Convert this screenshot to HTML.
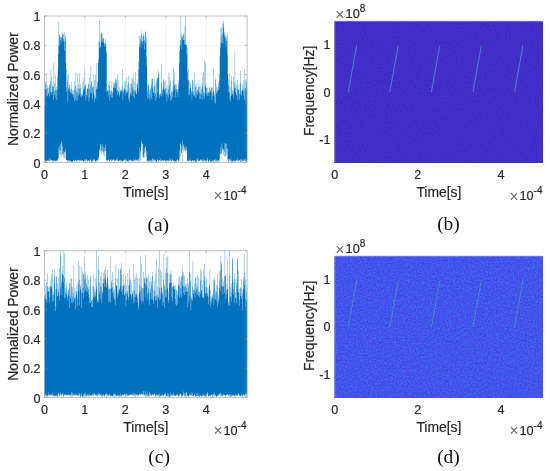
<!DOCTYPE html>
<html lang="en">
<head>
<meta charset="utf-8">
<title>Normalized power and spectrograms</title>
<style>
html,body{margin:0;padding:0;background:#fff;}
body{width:550px;height:471px;overflow:hidden;}
svg{display:block;}
text{font-family:"Liberation Sans", Arial, Helvetica, sans-serif;fill:#262626;stroke:#262626;stroke-width:0.18px;}
.t{font-size:12.6px;}
.l{font-size:13.9px;}
.s{font-size:10px;}
.e{font-size:12.7px;}
.x{font-size:15.6px;fill:#6e6e6e;stroke:none;}
.c{font-family:"Liberation Serif", "Times New Roman", Times, serif;font-size:19.5px;fill:#111;stroke:none;}
</style>
</head>
<body>
<svg width="550" height="471" viewBox="0 0 550 471">
<defs>
<filter id="nb" x="0" y="0" width="100%" height="100%" color-interpolation-filters="sRGB">
<feTurbulence type="fractalNoise" baseFrequency="0.55" numOctaves="2" seed="3" result="n"/>
<feColorMatrix in="n" type="matrix" values="0.03 0 0 0 0.238  0.08 0 0 0 0.140  0.10 0 0 0 0.727  0 0 0 0 1"/>
</filter>
<filter id="nd" x="0" y="0" width="100%" height="100%" color-interpolation-filters="sRGB">
<feTurbulence type="fractalNoise" baseFrequency="0.6" numOctaves="2" seed="11" result="n"/>
<feColorMatrix in="n" type="matrix" values="-0.12 0 0 0 0.318  0.36 0 0 0 0.152  0.12 0 0 0 0.858  0 0 0 0 1"/>
</filter>
</defs>
<rect width="550" height="471" fill="#fff"/>
<rect x="44.4" y="16" width="202.7" height="146.4" fill="#fff"/>
<path d="M84.8 16V162.4M125.3 16V162.4M165.8 16V162.4M206.2 16V162.4M44.4 133.1H247.1M44.4 103.8H247.1M44.4 74.6H247.1M44.4 45.3H247.1" stroke="#e6e6e6" stroke-width="0.6" fill="none"/>
<path d="M44.40 160.2V98.1h0.333V160.2zM44.73 160.6V103.6h0.333V160.6zM45.07 160.2V81.6h0.333V160.2zM45.40 161.7V88.9h0.333V161.7zM45.73 161.7V84h0.333V161.7zM46.07 161V73.7h0.333V161zM46.40 161.2V89.2h0.333V161.2zM46.73 160.3V95.4h0.333V160.3zM47.07 160.5V96.3h0.333V160.5zM47.40 160V85.3h0.333V160zM47.73 161V88.1h0.333V161zM48.07 160.9V87.3h0.333V160.9zM48.40 160.7V93.8h0.333V160.7zM48.73 159.5V93h0.333V159.5zM49.07 161V96.4h0.333V161zM49.40 161.2V85.6h0.333V161.2zM49.73 157.7V84.1h0.333V157.7zM50.07 160.5V91.8h0.333V160.5zM50.40 159V81h0.333V159zM50.73 160.5V69.3h0.333V160.5zM51.07 160.2V92.2h0.333V160.2zM51.40 160.2V94.9h0.333V160.2zM51.73 159.9V77.1h0.333V159.9zM52.07 161.8V91.7h0.333V161.8zM52.40 160.7V84.9h0.333V160.7zM52.73 160.6V86.7h0.333V160.6zM53.07 160.2V99.6h0.333V160.2zM53.40 161.5V86.6h0.333V161.5zM53.73 159.9V63h0.333V159.9zM54.07 161.1V91h0.333V161.1zM54.40 161.6V83.3h0.333V161.6zM54.74 160.8V95.1h0.333V160.8zM55.07 160.7V75.6h0.333V160.7zM55.40 161.5V89.8h0.333V161.5zM55.74 160.9V98h0.333V160.9zM56.07 159.9V87h0.333V159.9zM56.40 160.8V90.6h0.333V160.8zM56.74 161.2V99.9h0.333V161.2zM57.07 160.8V77.6h0.333V160.8zM57.40 160.9V89.5h0.333V160.9zM57.74 159.2V69.5h0.333V159.2zM58.07 157.7V53.9h0.333V157.7zM58.40 148.3V45.9h0.333V148.3zM58.74 158.5V21.6h0.333V158.5zM59.07 145.8V33.9h0.333V145.8zM59.40 154V35.3h0.333V154zM59.74 149.9V45.1h0.333V149.9zM60.07 154.7V40.1h0.333V154.7zM60.40 150.9V36.8h0.333V150.9zM60.74 144V37.3h0.333V144zM61.07 156.5V37.9h0.333V156.5zM61.40 141.2V36.9h0.333V141.2zM61.74 142.1V42.5h0.333V142.1zM62.07 154.3V33.9h0.333V154.3zM62.40 145.9V35.4h0.333V145.9zM62.74 155V31.4h0.333V155zM63.07 157.3V41.1h0.333V157.3zM63.40 153.4V34.1h0.333V153.4zM63.74 151.1V38.9h0.333V151.1zM64.07 151.6V33.2h0.333V151.6zM64.40 158.2V50.9h0.333V158.2zM64.74 152.3V41.5h0.333V152.3zM65.07 152.7V35.7h0.333V152.7zM65.40 148.8V39h0.333V148.8zM65.74 160V62.7h0.333V160zM66.07 159.7V68.9h0.333V159.7zM66.40 160V87.4h0.333V160zM66.74 160.2V91.7h0.333V160.2zM67.07 161.5V82h0.333V161.5zM67.40 160.8V75.4h0.333V160.8zM67.74 160.4V101.8h0.333V160.4zM68.07 160.4V89.3h0.333V160.4zM68.40 162V74.3h0.333V162zM68.74 159.9V87.6h0.333V159.9zM69.07 160.6V90.7h0.333V160.6zM69.40 161.4V85h0.333V161.4zM69.74 161.2V84.7h0.333V161.2zM70.07 161V88.5h0.333V161zM70.40 160.9V93.2h0.333V160.9zM70.74 160.9V91.9h0.333V160.9zM71.07 161.4V93.3h0.333V161.4zM71.40 161.9V82.1h0.333V161.9zM71.74 161.9V89.1h0.333V161.9zM72.07 161.6V93.3h0.333V161.6zM72.40 161.9V94.7h0.333V161.9zM72.74 161V90.6h0.333V161zM73.07 160.7V97.3h0.333V160.7zM73.40 160.4V90.3h0.333V160.4zM73.74 160V94.5h0.333V160zM74.07 160.7V81.2h0.333V160.7zM74.40 160.9V101.1h0.333V160.9zM74.74 161.7V89.4h0.333V161.7zM75.07 159.7V99.6h0.333V159.7zM75.41 160V85.6h0.333V160zM75.74 161.3V72.7h0.333V161.3zM76.07 160.7V100.4h0.333V160.7zM76.41 161.5V91.3h0.333V161.5zM76.74 160.7V88.3h0.333V160.7zM77.07 161.3V73.9h0.333V161.3zM77.41 160.1V93.1h0.333V160.1zM77.74 160.3V100.3h0.333V160.3zM78.07 159.9V84.6h0.333V159.9zM78.41 160.5V95.4h0.333V160.5zM78.74 160.3V88.6h0.333V160.3zM79.07 160.7V73.1h0.333V160.7zM79.41 162.3V88.8h0.333V162.3zM79.74 159.8V94.5h0.333V159.8zM80.07 160.9V88.2h0.333V160.9zM80.41 159.7V84h0.333V159.7zM80.74 161V96.2h0.333V161zM81.07 159.8V93.6h0.333V159.8zM81.41 160.5V97.8h0.333V160.5zM81.74 160.9V95.3h0.333V160.9zM82.07 159.9V95.9h0.333V159.9zM82.41 160.9V94.3h0.333V160.9zM82.74 161.1V81.9h0.333V161.1zM83.07 161.1V91.5h0.333V161.1zM83.41 161.8V88.4h0.333V161.8zM83.74 161.4V77.6h0.333V161.4zM84.07 160.6V89.4h0.333V160.6zM84.41 159.3V86.3h0.333V159.3zM84.74 160.8V67.4h0.333V160.8zM85.07 161.5V84.8h0.333V161.5zM85.41 159.8V85h0.333V159.8zM85.74 160.5V100.5h0.333V160.5zM86.07 159.3V91.6h0.333V159.3zM86.41 159.1V95.1h0.333V159.1zM86.74 160.8V96.8h0.333V160.8zM87.07 161.7V87.9h0.333V161.7zM87.41 161V89.1h0.333V161zM87.74 160.5V88.9h0.333V160.5zM88.07 160.2V83.6h0.333V160.2zM88.41 160.5V84.8h0.333V160.5zM88.74 161.1V101.4h0.333V161.1zM89.07 160.6V97.8h0.333V160.6zM89.41 161V77.2h0.333V161zM89.74 161.4V88.9h0.333V161.4zM90.07 160.3V85.7h0.333V160.3zM90.41 159.2V92.5h0.333V159.2zM90.74 159.3V66.4h0.333V159.3zM91.07 162V93.7h0.333V162zM91.41 161.7V81.8h0.333V161.7zM91.74 160.9V80.7h0.333V160.9zM92.07 161.8V86.9h0.333V161.8zM92.41 160.3V99.6h0.333V160.3zM92.74 161.3V87.3h0.333V161.3zM93.07 159.6V86.4h0.333V159.6zM93.41 160.7V92.7h0.333V160.7zM93.74 159.6V74.4h0.333V159.6zM94.07 159.8V101.8h0.333V159.8zM94.41 159.1V95.2h0.333V159.1zM94.74 160.8V79.7h0.333V160.8zM95.07 161.9V97.4h0.333V161.9zM95.41 160.9V74.7h0.333V160.9zM95.74 161.3V98.9h0.333V161.3zM96.08 159.9V87.3h0.333V159.9zM96.41 160.7V89.5h0.333V160.7zM96.74 162.1V63h0.333V162.1zM97.08 159.3V88.9h0.333V159.3zM97.41 160V81.1h0.333V160zM97.74 160.7V83h0.333V160.7zM98.08 160.4V59.3h0.333V160.4zM98.41 157.5V63h0.333V157.5zM98.74 156V41.4h0.333V156zM99.08 150V48.1h0.333V150zM99.41 149.2V21h0.333V149.2zM99.74 152.9V42.1h0.333V152.9zM100.08 151.6V46.6h0.333V151.6zM100.41 144.3V47.3h0.333V144.3zM100.74 143.8V33.6h0.333V143.8zM101.08 151.1V31.6h0.333V151.1zM101.41 155V33.6h0.333V155zM101.74 146.7V42.8h0.333V146.7zM102.08 144.5V41.4h0.333V144.5zM102.41 151V38.1h0.333V151zM102.74 152.3V33.3h0.333V152.3zM103.08 152.5V38.9h0.333V152.5zM103.41 155.2V37.8h0.333V155.2zM103.74 146.8V42.9h0.333V146.8zM104.08 156.4V46.9h0.333V156.4zM104.41 151.4V43.7h0.333V151.4zM104.74 147.4V42.6h0.333V147.4zM105.08 144.7V38.5h0.333V144.7zM105.41 150.9V43.7h0.333V150.9zM105.74 150.4V45.6h0.333V150.4zM106.08 159.8V53h0.333V159.8zM106.41 160.5V51h0.333V160.5zM106.74 160.3V92.2h0.333V160.3zM107.08 161.4V91.1h0.333V161.4zM107.41 160.7V90.9h0.333V160.7zM107.74 160.1V89.4h0.333V160.1zM108.08 159.8V96.2h0.333V159.8zM108.41 159.8V84.4h0.333V159.8zM108.74 160.3V90.6h0.333V160.3zM109.08 160.9V81.1h0.333V160.9zM109.41 161.1V85.9h0.333V161.1zM109.74 161.6V100.8h0.333V161.6zM110.08 159.1V92h0.333V159.1zM110.41 160V95.1h0.333V160zM110.74 160V90h0.333V160zM111.08 161.3V97.2h0.333V161.3zM111.41 161.6V91.1h0.333V161.6zM111.74 159.3V81.3h0.333V159.3zM112.08 159.7V97.8h0.333V159.7zM112.41 160.7V91.8h0.333V160.7zM112.74 160.5V93.2h0.333V160.5zM113.08 159.3V82.6h0.333V159.3zM113.41 159.4V87.8h0.333V159.4zM113.74 160V86.3h0.333V160zM114.08 161.7V87.9h0.333V161.7zM114.41 160.8V83.8h0.333V160.8zM114.74 159.5V82.4h0.333V159.5zM115.08 160.2V79h0.333V160.2zM115.41 161.1V88.1h0.333V161.1zM115.75 160.5V77.5h0.333V160.5zM116.08 160.8V82.8h0.333V160.8zM116.41 159.2V80.1h0.333V159.2zM116.75 159.7V91h0.333V159.7zM117.08 158.3V75.1h0.333V158.3zM117.41 160.5V95.1h0.333V160.5zM117.75 161.1V89.7h0.333V161.1zM118.08 161V91.4h0.333V161zM118.41 161V92.2h0.333V161zM118.75 161V79.7h0.333V161zM119.08 159.8V96.7h0.333V159.8zM119.41 161.2V94.6h0.333V161.2zM119.75 160V87.7h0.333V160zM120.08 160.8V91.1h0.333V160.8zM120.41 161.6V89.4h0.333V161.6zM120.75 159.7V92.2h0.333V159.7zM121.08 162.2V91.3h0.333V162.2zM121.41 160.5V89.4h0.333V160.5zM121.75 160.7V90.6h0.333V160.7zM122.08 161.8V86.6h0.333V161.8zM122.41 161.6V68.8h0.333V161.6zM122.75 161.1V100.5h0.333V161.1zM123.08 161V93.1h0.333V161zM123.41 160.8V90.3h0.333V160.8zM123.75 160.3V90.6h0.333V160.3zM124.08 160.3V81.4h0.333V160.3zM124.41 159.9V88.5h0.333V159.9zM124.75 157.9V88.7h0.333V157.9zM125.08 160.4V90.2h0.333V160.4zM125.41 159.8V81.5h0.333V159.8zM125.75 159.5V95.6h0.333V159.5zM126.08 160.5V90.3h0.333V160.5zM126.41 161.6V93h0.333V161.6zM126.75 160.6V77.4h0.333V160.6zM127.08 162.3V91.4h0.333V162.3zM127.41 161V92.3h0.333V161zM127.75 161.2V85.3h0.333V161.2zM128.08 159.4V76h0.333V159.4zM128.41 161.8V99.6h0.333V161.8zM128.75 161.8V83.6h0.333V161.8zM129.08 160.7V97.1h0.333V160.7zM129.41 160V102.1h0.333V160zM129.75 160.4V87.7h0.333V160.4zM130.08 159.8V92.5h0.333V159.8zM130.41 160.7V94.6h0.333V160.7zM130.75 159.6V84.1h0.333V159.6zM131.08 162V95.7h0.333V162zM131.41 160.9V83.9h0.333V160.9zM131.75 160V78.3h0.333V160zM132.08 161.6V87.5h0.333V161.6zM132.41 161.1V78.9h0.333V161.1zM132.75 161V91.6h0.333V161zM133.08 161.1V96.3h0.333V161.1zM133.41 159.1V75h0.333V159.1zM133.75 161.6V89h0.333V161.6zM134.08 161.7V82.1h0.333V161.7zM134.41 160.1V98.6h0.333V160.1zM134.75 160.6V90.7h0.333V160.6zM135.08 160.1V71.9h0.333V160.1zM135.41 160.9V92.2h0.333V160.9zM135.75 158.7V90.1h0.333V158.7zM136.08 160.3V94.1h0.333V160.3zM136.42 160.8V93.9h0.333V160.8zM136.75 160.2V83.6h0.333V160.2zM137.08 161.3V79.3h0.333V161.3zM137.42 160.7V84.2h0.333V160.7zM137.75 159.3V88h0.333V159.3zM138.08 159.8V92.2h0.333V159.8zM138.42 159.1V61.4h0.333V159.1zM138.75 161.6V69h0.333V161.6zM139.08 157.6V46.9h0.333V157.6zM139.42 147.5V35.8h0.333V147.5zM139.75 162.1V44.3h0.333V162.1zM140.08 160.5V35.8h0.333V160.5zM140.42 150.7V39.3h0.333V150.7zM140.75 151.9V47.4h0.333V151.9zM141.08 147.4V41.2h0.333V147.4zM141.42 140.6V34.1h0.333V140.6zM141.75 142.5V30.8h0.333V142.5zM142.08 156.4V41.7h0.333V156.4zM142.42 144V44.6h0.333V144zM142.75 143.6V36.8h0.333V143.6zM143.08 157.4V35.6h0.333V157.4zM143.42 157.6V33.3h0.333V157.6zM143.75 155.5V41.1h0.333V155.5zM144.08 148.2V40.2h0.333V148.2zM144.42 152.6V49.2h0.333V152.6zM144.75 157.8V35h0.333V157.8zM145.08 146.2V31.8h0.333V146.2zM145.42 147.3V42.8h0.333V147.3zM145.75 152.4V31.4h0.333V152.4zM146.08 150.6V37.2h0.333V150.6zM146.42 156.7V57.1h0.333V156.7zM146.75 161.7V66.7h0.333V161.7zM147.08 160.9V91h0.333V160.9zM147.42 160.5V98.8h0.333V160.5zM147.75 161.8V86.3h0.333V161.8zM148.08 159.9V84.5h0.333V159.9zM148.42 161.4V83.8h0.333V161.4zM148.75 161.3V97.4h0.333V161.3zM149.08 161.2V90.2h0.333V161.2zM149.42 161.5V93.7h0.333V161.5zM149.75 160.7V100.3h0.333V160.7zM150.08 159.5V88.1h0.333V159.5zM150.42 162V89.6h0.333V162zM150.75 160.7V97.5h0.333V160.7zM151.08 159.9V79.1h0.333V159.9zM151.42 162V84.5h0.333V162zM151.75 161.2V99.2h0.333V161.2zM152.08 162.3V79h0.333V162.3zM152.42 158.2V78.5h0.333V158.2zM152.75 159.2V88.6h0.333V159.2zM153.08 161.2V92.9h0.333V161.2zM153.42 160.1V86.8h0.333V160.1zM153.75 159.6V92.1h0.333V159.6zM154.08 162.3V78.8h0.333V162.3zM154.42 160.6V86.2h0.333V160.6zM154.75 159.1V95.4h0.333V159.1zM155.08 160.1V93.6h0.333V160.1zM155.42 160.9V84.5h0.333V160.9zM155.75 161.7V101h0.333V161.7zM156.09 161.6V97.7h0.333V161.6zM156.42 161.5V81.3h0.333V161.5zM156.75 161.4V77.7h0.333V161.4zM157.09 159.3V77.5h0.333V159.3zM157.42 159.7V78.8h0.333V159.7zM157.75 160.1V92.8h0.333V160.1zM158.09 160.6V70h0.333V160.6zM158.42 161.3V73.6h0.333V161.3zM158.75 162.1V77.2h0.333V162.1zM159.09 160.1V98.3h0.333V160.1zM159.42 160.1V94.3h0.333V160.1zM159.75 160.8V95.3h0.333V160.8zM160.09 161.6V93.4h0.333V161.6zM160.42 158.6V95.4h0.333V158.6zM160.75 160.7V92.8h0.333V160.7zM161.09 160.1V64h0.333V160.1zM161.42 161.2V83h0.333V161.2zM161.75 161.2V96.8h0.333V161.2zM162.09 160.5V89.9h0.333V160.5zM162.42 159.8V94.1h0.333V159.8zM162.75 161.3V87.5h0.333V161.3zM163.09 161.6V78.8h0.333V161.6zM163.42 160.5V80.6h0.333V160.5zM163.75 160.4V89.3h0.333V160.4zM164.09 159.9V82.1h0.333V159.9zM164.42 160.3V90.5h0.333V160.3zM164.75 161V88.7h0.333V161zM165.09 160.6V88.3h0.333V160.6zM165.42 160.7V94.7h0.333V160.7zM165.75 161.7V80.2h0.333V161.7zM166.09 160.3V93.6h0.333V160.3zM166.42 161.8V87.4h0.333V161.8zM166.75 160.4V101.6h0.333V160.4zM167.09 160.8V95.2h0.333V160.8zM167.42 160.4V92.6h0.333V160.4zM167.75 160.7V85.3h0.333V160.7zM168.09 161.3V88.7h0.333V161.3zM168.42 160.6V97.4h0.333V160.6zM168.75 161.2V72.6h0.333V161.2zM169.09 161.3V94.2h0.333V161.3zM169.42 160.6V85.4h0.333V160.6zM169.75 158.5V77h0.333V158.5zM170.09 161.4V95.2h0.333V161.4zM170.42 160V80.4h0.333V160zM170.75 159V100.5h0.333V159zM171.09 161.3V90.7h0.333V161.3zM171.42 160.7V99.8h0.333V160.7zM171.75 161.1V92.7h0.333V161.1zM172.09 160.7V92.1h0.333V160.7zM172.42 158.8V97.2h0.333V158.8zM172.75 159.9V85.8h0.333V159.9zM173.09 160.5V80.6h0.333V160.5zM173.42 161V66.9h0.333V161zM173.75 161.2V90.6h0.333V161.2zM174.09 160.6V85.7h0.333V160.6zM174.42 161.5V72h0.333V161.5zM174.75 161.9V84.4h0.333V161.9zM175.09 161.2V97.4h0.333V161.2zM175.42 161.8V83.9h0.333V161.8zM175.75 161.3V88.4h0.333V161.3zM176.09 160V89.2h0.333V160zM176.42 161.3V84h0.333V161.3zM176.76 161.8V91.8h0.333V161.8zM177.09 159.8V91.7h0.333V159.8zM177.42 159.2V89.1h0.333V159.2zM177.76 160.3V97h0.333V160.3zM178.09 162V83.1h0.333V162zM178.42 160.6V89.2h0.333V160.6zM178.76 160.9V79.8h0.333V160.9zM179.09 158.2V63.2h0.333V158.2zM179.42 150.5V51h0.333V150.5zM179.76 161V45.7h0.333V161zM180.09 143.8V40.1h0.333V143.8zM180.42 143.4V44.4h0.333V143.4zM180.76 155.6V16h0.333V155.6zM181.09 153.6V33.6h0.333V153.6zM181.42 153V49.2h0.333V153zM181.76 145.7V36.8h0.333V145.7zM182.09 148.9V39.8h0.333V148.9zM182.42 140.6V37.3h0.333V140.6zM182.76 161.9V34.9h0.333V161.9zM183.09 144.2V34.4h0.333V144.2zM183.42 146.6V40.1h0.333V146.6zM183.76 151.2V32.5h0.333V151.2zM184.09 149V44.7h0.333V149zM184.42 147.3V39.6h0.333V147.3zM184.76 151.6V26h0.333V151.6zM185.09 150.8V16h0.333V150.8zM185.42 146.8V45h0.333V146.8zM185.76 151V43.7h0.333V151zM186.09 149.5V45h0.333V149.5zM186.42 146.7V45.1h0.333V146.7zM186.76 153.3V54.8h0.333V153.3zM187.09 161V46.9h0.333V161zM187.42 160.1V71.4h0.333V160.1zM187.76 161.4V79.4h0.333V161.4zM188.09 161.4V80.3h0.333V161.4zM188.42 160.6V68.2h0.333V160.6zM188.76 161.3V94.7h0.333V161.3zM189.09 160.8V95h0.333V160.8zM189.42 160.4V80.6h0.333V160.4zM189.76 158.6V89.4h0.333V158.6zM190.09 160.3V88.1h0.333V160.3zM190.42 161.2V82h0.333V161.2zM190.76 160.9V86.3h0.333V160.9zM191.09 161.9V92.4h0.333V161.9zM191.42 160.7V90.4h0.333V160.7zM191.76 162.1V99.5h0.333V162.1zM192.09 160.7V79.6h0.333V160.7zM192.42 160.3V81.2h0.333V160.3zM192.76 160.1V93.2h0.333V160.1zM193.09 161.2V91h0.333V161.2zM193.42 161.6V95.2h0.333V161.6zM193.76 160.1V82.6h0.333V160.1zM194.09 160.3V95.3h0.333V160.3zM194.42 161.1V72.6h0.333V161.1zM194.76 161.7V96.8h0.333V161.7zM195.09 161.6V85.4h0.333V161.6zM195.42 162V87.2h0.333V162zM195.76 162.1V97.8h0.333V162.1zM196.09 161.3V91.6h0.333V161.3zM196.42 161.2V83.9h0.333V161.2zM196.76 158.8V94.8h0.333V158.8zM197.09 158.1V89.8h0.333V158.1zM197.43 160.1V93.8h0.333V160.1zM197.76 161.2V89.7h0.333V161.2zM198.09 161.8V87.1h0.333V161.8zM198.43 160.8V91.6h0.333V160.8zM198.76 159.9V79.8h0.333V159.9zM199.09 161.1V92.7h0.333V161.1zM199.43 161.1V86.2h0.333V161.1zM199.76 160.9V99.1h0.333V160.9zM200.09 159V86.1h0.333V159zM200.43 160V93.3h0.333V160zM200.76 160.8V99.1h0.333V160.8zM201.09 160V94.8h0.333V160zM201.43 159.6V89.2h0.333V159.6zM201.76 161.8V83.3h0.333V161.8zM202.09 162.2V75.8h0.333V162.2zM202.43 161.1V87.1h0.333V161.1zM202.76 159.8V99.6h0.333V159.8zM203.09 158.7V91.9h0.333V158.7zM203.43 161.3V71.4h0.333V161.3zM203.76 161.9V95.8h0.333V161.9zM204.09 160.3V98.4h0.333V160.3zM204.43 161V60.1h0.333V161zM204.76 160.6V93.6h0.333V160.6zM205.09 160.2V84.7h0.333V160.2zM205.43 161.9V62.8h0.333V161.9zM205.76 160.7V86.9h0.333V160.7zM206.09 160.7V94.4h0.333V160.7zM206.43 161.1V88.1h0.333V161.1zM206.76 159.6V87.6h0.333V159.6zM207.09 160.1V96.2h0.333V160.1zM207.43 157.8V92.7h0.333V157.8zM207.76 161.4V87.7h0.333V161.4zM208.09 162V92h0.333V162zM208.43 161.9V92.6h0.333V161.9zM208.76 160.9V95.8h0.333V160.9zM209.09 160.7V87.7h0.333V160.7zM209.43 160V93h0.333V160zM209.76 159.5V86.6h0.333V159.5zM210.09 162.4V91.1h0.333V162.4zM210.43 162V90.3h0.333V162zM210.76 162.1V92.3h0.333V162.1zM211.09 161.5V87.7h0.333V161.5zM211.43 161.3V87.7h0.333V161.3zM211.76 159.7V100h0.333V159.7zM212.09 161V87.3h0.333V161zM212.43 161.6V96.2h0.333V161.6zM212.76 160.4V92.5h0.333V160.4zM213.09 161.6V91.4h0.333V161.6zM213.43 162.2V68.7h0.333V162.2zM213.76 160.4V90.6h0.333V160.4zM214.09 159.7V95.7h0.333V159.7zM214.43 159.8V94h0.333V159.8zM214.76 162.3V102.4h0.333V162.3zM215.09 160.7V79.9h0.333V160.7zM215.43 161.6V103.8h0.333V161.6zM215.76 159.1V77.6h0.333V159.1zM216.09 161.8V93.4h0.333V161.8zM216.43 159.4V87.1h0.333V159.4zM216.76 161.9V91.2h0.333V161.9zM217.10 161.4V92.5h0.333V161.4zM217.43 160.2V88h0.333V160.2zM217.76 160.5V90.4h0.333V160.5zM218.10 161.7V82.2h0.333V161.7zM218.43 160.4V87.1h0.333V160.4zM218.76 161.1V90.1h0.333V161.1zM219.10 159.2V80.8h0.333V159.2zM219.43 161.3V74.5h0.333V161.3zM219.76 154V56h0.333V154zM220.10 147.2V28h0.333V147.2zM220.43 154.9V47.2h0.333V154.9zM220.76 151.5V42.6h0.333V151.5zM221.10 154.3V36.4h0.333V154.3zM221.43 153.5V27h0.333V153.5zM221.76 143.6V43.2h0.333V143.6zM222.10 148.4V33.4h0.333V148.4zM222.43 149.7V22.7h0.333V149.7zM222.76 151.2V43.7h0.333V151.2zM223.10 148.7V20.8h0.333V148.7zM223.43 155V24.5h0.333V155zM223.76 149.9V28.3h0.333V149.9zM224.10 156.7V34.2h0.333V156.7zM224.43 152.1V37.5h0.333V152.1zM224.76 143.2V31.6h0.333V143.2zM225.10 156.8V37.8h0.333V156.8zM225.43 142.9V35.6h0.333V142.9zM225.76 156V47.3h0.333V156zM226.10 143.9V41.1h0.333V143.9zM226.43 154.7V39.3h0.333V154.7zM226.76 148.4V35.9h0.333V148.4zM227.10 148.7V33.4h0.333V148.7zM227.43 159.9V54.4h0.333V159.9zM227.76 159V74.1h0.333V159zM228.10 159.1V79h0.333V159.1zM228.43 161.9V84.9h0.333V161.9zM228.76 161.7V92.4h0.333V161.7zM229.10 159.1V73.8h0.333V159.1zM229.43 160.6V91.5h0.333V160.6zM229.76 160.3V98.9h0.333V160.3zM230.10 161V87.3h0.333V161zM230.43 161.5V101.4h0.333V161.5zM230.76 158.2V95.7h0.333V158.2zM231.10 161.6V76h0.333V161.6zM231.43 162V95.4h0.333V162zM231.76 159.9V81h0.333V159.9zM232.10 161V90h0.333V161zM232.43 161.8V94.1h0.333V161.8zM232.76 161.9V94.4h0.333V161.9zM233.10 161.5V97.6h0.333V161.5zM233.43 161.5V76.4h0.333V161.5zM233.76 160V91.3h0.333V160zM234.10 161.7V82.3h0.333V161.7zM234.43 160.5V88h0.333V160.5zM234.76 161.2V52h0.333V161.2zM235.10 160.4V91.9h0.333V160.4zM235.43 161.1V87.8h0.333V161.1zM235.76 161.4V82.9h0.333V161.4zM236.10 159.9V95.6h0.333V159.9zM236.43 161.5V94.4h0.333V161.5zM236.76 160.6V85.3h0.333V160.6zM237.10 160.9V80h0.333V160.9zM237.43 158.6V89.1h0.333V158.6zM237.77 160.6V100.2h0.333V160.6zM238.10 161.9V90.4h0.333V161.9zM238.43 161.1V89.6h0.333V161.1zM238.77 160.1V83.4h0.333V160.1zM239.10 160.7V99.7h0.333V160.7zM239.43 160.1V94.1h0.333V160.1zM239.77 160.6V89.4h0.333V160.6zM240.10 159V83.5h0.333V159zM240.43 162.1V71.1h0.333V162.1zM240.77 161.7V95h0.333V161.7zM241.10 159.3V92.3h0.333V159.3zM241.43 161.6V95.7h0.333V161.6zM241.77 160.6V88.7h0.333V160.6zM242.10 161.4V90h0.333V161.4zM242.43 161.5V90.5h0.333V161.5zM242.77 159.6V84.5h0.333V159.6zM243.10 161.3V91.1h0.333V161.3zM243.43 161.1V80.2h0.333V161.1zM243.77 159.2V95.7h0.333V159.2zM244.10 160.7V99.8h0.333V160.7zM244.43 160.5V69.2h0.333V160.5zM244.77 159.6V88.6h0.333V159.6zM245.10 161.1V88.2h0.333V161.1zM245.43 159V80h0.333V159zM245.77 161.2V102h0.333V161.2zM246.10 162.2V82.9h0.333V162.2zM246.43 161.4V78.5h0.333V161.4zM246.77 160.3V89.9h0.333V160.3z" fill="#0072bd" stroke="none"/>
<path d="M44.4 162.4v-2.2M44.4 16v2.2M84.8 162.4v-2.2M84.8 16v2.2M125.3 162.4v-2.2M125.3 16v2.2M165.8 162.4v-2.2M165.8 16v2.2M206.2 162.4v-2.2M206.2 16v2.2M44.4 162.4h2.2M247.1 162.4h-2.2M44.4 133.1h2.2M247.1 133.1h-2.2M44.4 103.8h2.2M247.1 103.8h-2.2M44.4 74.6h2.2M247.1 74.6h-2.2M44.4 45.3h2.2M247.1 45.3h-2.2M44.4 16h2.2M247.1 16h-2.2" stroke="#9a9a9a" stroke-width="0.6" fill="none"/>
<rect x="44.4" y="16" width="202.7" height="146.4" fill="none" stroke="#a4a4a4" stroke-width="0.7"/>
<text x="44.4" y="179.4" text-anchor="middle" class="t">0</text>
<text x="84.8" y="179.4" text-anchor="middle" class="t">1</text>
<text x="125.3" y="179.4" text-anchor="middle" class="t">2</text>
<text x="165.8" y="179.4" text-anchor="middle" class="t">3</text>
<text x="206.2" y="179.4" text-anchor="middle" class="t">4</text>
<text x="40.4" y="167.5" text-anchor="end" class="t">0</text>
<text x="40.4" y="138.2" text-anchor="end" class="t">0.2</text>
<text x="40.4" y="108.9" text-anchor="end" class="t">0.4</text>
<text x="40.4" y="79.7" text-anchor="end" class="t">0.6</text>
<text x="40.4" y="50.4" text-anchor="end" class="t">0.8</text>
<text x="40.4" y="21.1" text-anchor="end" class="t">1</text>
<text x="145.8" y="196.8" text-anchor="middle" class="l">Time[s]</text>
<text transform="translate(18.2 89.2) rotate(-90)" text-anchor="middle" class="l">Normalized Power</text>
<text x="246.5" y="199.7" text-anchor="end" class="e">10<tspan dy="-6" class="s">-4</tspan></text>
<text x="222.6" y="201.4" text-anchor="end" class="x">×</text>
<rect x="44.4" y="250.8" width="202.7" height="146.6" fill="#fff"/>
<path d="M84.8 250.8V397.4M125.3 250.8V397.4M165.8 250.8V397.4M206.2 250.8V397.4M44.4 368.1H247.1M44.4 338.8H247.1M44.4 309.4H247.1M44.4 280.1H247.1" stroke="#e6e6e6" stroke-width="0.6" fill="none"/>
<path d="M44.40 396.1V297.1h0.333V396.1zM44.73 395.5V296.6h0.333V395.5zM45.07 394.6V299.2h0.333V394.6zM45.40 396.7V294.3h0.333V396.7zM45.73 394.4V285.4h0.333V394.4zM46.07 396.3V299.5h0.333V396.3zM46.40 394.8V282h0.333V394.8zM46.73 397V302.7h0.333V397zM47.07 395.9V273.4h0.333V395.9zM47.40 395.5V286.5h0.333V395.5zM47.73 396.5V291.4h0.333V396.5zM48.07 395.7V290.9h0.333V395.7zM48.40 392.2V292.1h0.333V392.2zM48.73 395.3V286.5h0.333V395.3zM49.07 396.5V302.6h0.333V396.5zM49.40 395.2V286.7h0.333V395.2zM49.73 394.6V297.1h0.333V394.6zM50.07 395.2V287.3h0.333V395.2zM50.40 394.5V285.5h0.333V394.5zM50.73 395.5V280.2h0.333V395.5zM51.07 394.6V286.7h0.333V394.6zM51.40 395.7V274h0.333V395.7zM51.73 394.7V287.7h0.333V394.7zM52.07 394.8V301.6h0.333V394.8zM52.40 396.2V270h0.333V396.2zM52.73 392.7V295.2h0.333V392.7zM53.07 396.3V301.3h0.333V396.3zM53.40 394.9V291.6h0.333V394.9zM53.73 396.3V294.5h0.333V396.3zM54.07 394.9V269.2h0.333V394.9zM54.40 396.7V275.8h0.333V396.7zM54.74 396.5V282.9h0.333V396.5zM55.07 396V311h0.333V396zM55.40 395.8V289.2h0.333V395.8zM55.74 395.7V306.5h0.333V395.7zM56.07 396.1V289.3h0.333V396.1zM56.40 395.5V276h0.333V395.5zM56.74 396.7V276.8h0.333V396.7zM57.07 393.9V283.3h0.333V393.9zM57.40 397.1V295.7h0.333V397.1zM57.74 396.6V296.6h0.333V396.6zM58.07 395.5V289.1h0.333V395.5zM58.40 393.6V292.3h0.333V393.6zM58.74 392.8V277.5h0.333V392.8zM59.07 396.3V300.6h0.333V396.3zM59.40 395.7V267.5h0.333V395.7zM59.74 395.1V295.8h0.333V395.1zM60.07 392.5V250.8h0.333V392.5zM60.40 393.4V287.7h0.333V393.4zM60.74 396V256.3h0.333V396zM61.07 394.8V280.2h0.333V394.8zM61.40 395.6V282.8h0.333V395.6zM61.74 394.7V294.7h0.333V394.7zM62.07 395.1V273.7h0.333V395.1zM62.40 393.7V265.2h0.333V393.7zM62.74 392.6V273.9h0.333V392.6zM63.07 397.1V275.6h0.333V397.1zM63.40 395.9V281.9h0.333V395.9zM63.74 394.7V250.8h0.333V394.7zM64.07 394.4V298.5h0.333V394.4zM64.40 394.8V277.8h0.333V394.8zM64.74 395.4V253.5h0.333V395.4zM65.07 395V297.5h0.333V395zM65.40 395.9V288.2h0.333V395.9zM65.74 393.9V293h0.333V393.9zM66.07 394.9V294.8h0.333V394.9zM66.40 395.1V284.9h0.333V395.1zM66.74 395.3V281.4h0.333V395.3zM67.07 395.7V296.4h0.333V395.7zM67.40 394.5V299.9h0.333V394.5zM67.74 395.8V291.1h0.333V395.8zM68.07 395.6V290.2h0.333V395.6zM68.40 394.7V295.5h0.333V394.7zM68.74 393.8V289h0.333V393.8zM69.07 395.1V282.7h0.333V395.1zM69.40 395.3V308.1h0.333V395.3zM69.74 395.7V283.5h0.333V395.7zM70.07 395.4V295.4h0.333V395.4zM70.40 396.6V298.5h0.333V396.6zM70.74 394V278.5h0.333V394zM71.07 396.8V302.6h0.333V396.8zM71.40 394.3V278.3h0.333V394.3zM71.74 392.1V286.7h0.333V392.1zM72.07 396.2V287.3h0.333V396.2zM72.40 393.6V296.7h0.333V393.6zM72.74 396.6V303.2h0.333V396.6zM73.07 394.5V292.7h0.333V394.5zM73.40 395.6V301.8h0.333V395.6zM73.74 394.4V265h0.333V394.4zM74.07 395.7V299.2h0.333V395.7zM74.40 395.8V297.1h0.333V395.8zM74.74 393.7V287.8h0.333V393.7zM75.07 395.3V297.5h0.333V395.3zM75.41 395.2V309.3h0.333V395.2zM75.74 395V291.1h0.333V395zM76.07 394.2V294.7h0.333V394.2zM76.41 395.1V291.8h0.333V395.1zM76.74 395.7V285.8h0.333V395.7zM77.07 394.4V298.8h0.333V394.4zM77.41 395.8V306.5h0.333V395.8zM77.74 396V281.4h0.333V396zM78.07 395.7V283.4h0.333V395.7zM78.41 395.7V261.1h0.333V395.7zM78.74 393.5V291.7h0.333V393.5zM79.07 394.7V305.2h0.333V394.7zM79.41 393.3V280.1h0.333V393.3zM79.74 396.7V265.5h0.333V396.7zM80.07 397.1V290h0.333V397.1zM80.41 397V286.7h0.333V397zM80.74 394.4V284.6h0.333V394.4zM81.07 396.1V308h0.333V396.1zM81.41 393.3V292.4h0.333V393.3zM81.74 396.3V267.2h0.333V396.3zM82.07 396.2V292.9h0.333V396.2zM82.41 396.7V271.6h0.333V396.7zM82.74 397V287.9h0.333V397zM83.07 395.2V273.9h0.333V395.2zM83.41 396.9V298.7h0.333V396.9zM83.74 394.4V274.2h0.333V394.4zM84.07 393.4V257.3h0.333V393.4zM84.41 395.6V279.2h0.333V395.6zM84.74 394.6V292.2h0.333V394.6zM85.07 392.6V289.6h0.333V392.6zM85.41 396.6V271.4h0.333V396.6zM85.74 395.8V277.3h0.333V395.8zM86.07 397V282.8h0.333V397zM86.41 395.8V284.3h0.333V395.8zM86.74 394.7V291.1h0.333V394.7zM87.07 393.9V286.7h0.333V393.9zM87.41 396V274.6h0.333V396zM87.74 396V291.7h0.333V396zM88.07 395.7V288.9h0.333V395.7zM88.41 394.3V279.8h0.333V394.3zM88.74 396.4V294.7h0.333V396.4zM89.07 396.2V303.1h0.333V396.2zM89.41 394.3V298.1h0.333V394.3zM89.74 395.8V286.1h0.333V395.8zM90.07 395V277.4h0.333V395zM90.41 395.8V303h0.333V395.8zM90.74 396.1V275.4h0.333V396.1zM91.07 395V300.7h0.333V395zM91.41 395.6V300.5h0.333V395.6zM91.74 396.3V307.1h0.333V396.3zM92.07 396.1V299.2h0.333V396.1zM92.41 394.3V306.9h0.333V394.3zM92.74 394.1V286.8h0.333V394.1zM93.07 395.5V297.1h0.333V395.5zM93.41 396.1V274.4h0.333V396.1zM93.74 393.7V286.5h0.333V393.7zM94.07 393.6V289.5h0.333V393.6zM94.41 394.1V294.7h0.333V394.1zM94.74 395.5V298.6h0.333V395.5zM95.07 394.8V296.3h0.333V394.8zM95.41 394.7V292.6h0.333V394.7zM95.74 395.9V278.1h0.333V395.9zM96.08 395.8V285.7h0.333V395.8zM96.41 395.7V250.8h0.333V395.7zM96.74 394.2V289.5h0.333V394.2zM97.08 396.1V298.8h0.333V396.1zM97.41 396.2V300.6h0.333V396.2zM97.74 394V302h0.333V394zM98.08 392.7V301.7h0.333V392.7zM98.41 395.3V255.4h0.333V395.3zM98.74 394.9V270.1h0.333V394.9zM99.08 393.2V294.2h0.333V393.2zM99.41 396.2V282.5h0.333V396.2zM99.74 394.2V290.9h0.333V394.2zM100.08 395.8V276.2h0.333V395.8zM100.41 394.2V286.5h0.333V394.2zM100.74 395.7V298.5h0.333V395.7zM101.08 394.1V286.8h0.333V394.1zM101.41 395.9V271.5h0.333V395.9zM101.74 396.9V302.9h0.333V396.9zM102.08 394.9V293.2h0.333V394.9zM102.41 395.7V291.8h0.333V395.7zM102.74 396.4V282.8h0.333V396.4zM103.08 396.1V283.6h0.333V396.1zM103.41 394.4V272.5h0.333V394.4zM103.74 394V279.3h0.333V394zM104.08 396V269.4h0.333V396zM104.41 397.1V287h0.333V397.1zM104.74 395.8V277.6h0.333V395.8zM105.08 394.1V266.8h0.333V394.1zM105.41 394.8V279.6h0.333V394.8zM105.74 395.1V273.8h0.333V395.1zM106.08 393.1V282.6h0.333V393.1zM106.41 397.3V287.7h0.333V397.3zM106.74 393.7V285.6h0.333V393.7zM107.08 395.9V270h0.333V395.9zM107.41 394.3V279.1h0.333V394.3zM107.74 395.4V277h0.333V395.4zM108.08 396.2V302.1h0.333V396.2zM108.41 395.1V289.2h0.333V395.1zM108.74 395.4V285h0.333V395.4zM109.08 395V301.2h0.333V395zM109.41 393.5V288.6h0.333V393.5zM109.74 396.2V288.5h0.333V396.2zM110.08 396.7V288.9h0.333V396.7zM110.41 394.4V302.7h0.333V394.4zM110.74 396.2V256.1h0.333V396.2zM111.08 396.3V282.7h0.333V396.3zM111.41 395.9V281.1h0.333V395.9zM111.74 395.5V288.2h0.333V395.5zM112.08 396.2V287.3h0.333V396.2zM112.41 397V272.1h0.333V397zM112.74 395.6V293.3h0.333V395.6zM113.08 394.5V297h0.333V394.5zM113.41 394.6V291.4h0.333V394.6zM113.74 396.4V282.5h0.333V396.4zM114.08 394V289.6h0.333V394zM114.41 394.5V298.9h0.333V394.5zM114.74 397.1V299.8h0.333V397.1zM115.08 393.5V279h0.333V393.5zM115.41 396.6V305.4h0.333V396.6zM115.75 395.4V264.5h0.333V395.4zM116.08 395.8V286h0.333V395.8zM116.41 396.3V285.3h0.333V396.3zM116.75 395.9V285.3h0.333V395.9zM117.08 394.6V293h0.333V394.6zM117.41 395.4V297.4h0.333V395.4zM117.75 396.2V277.7h0.333V396.2zM118.08 396.3V268.5h0.333V396.3zM118.41 394.7V294.4h0.333V394.7zM118.75 396.5V291.6h0.333V396.5zM119.08 397.1V287.5h0.333V397.1zM119.41 395.3V288.7h0.333V395.3zM119.75 395.2V290.2h0.333V395.2zM120.08 396.4V267.8h0.333V396.4zM120.41 393.3V270.2h0.333V393.3zM120.75 396.1V285.4h0.333V396.1zM121.08 397V263.3h0.333V397zM121.41 394.6V292.1h0.333V394.6zM121.75 396.5V274.9h0.333V396.5zM122.08 395.6V285.7h0.333V395.6zM122.41 394.8V289.4h0.333V394.8zM122.75 394.9V294.7h0.333V394.9zM123.08 394.8V285.6h0.333V394.8zM123.41 396.3V274.1h0.333V396.3zM123.75 395V286.1h0.333V395zM124.08 393.6V283.3h0.333V393.6zM124.41 395.4V294.7h0.333V395.4zM124.75 394.3V294.7h0.333V394.3zM125.08 394.7V275.9h0.333V394.7zM125.41 395.7V292.7h0.333V395.7zM125.75 395.1V306.3h0.333V395.1zM126.08 396.8V300.3h0.333V396.8zM126.41 393V285.3h0.333V393zM126.75 394.3V293.1h0.333V394.3zM127.08 395.5V294.1h0.333V395.5zM127.41 395.4V291h0.333V395.4zM127.75 396.6V272.9h0.333V396.6zM128.08 395.9V300h0.333V395.9zM128.41 394.7V285.2h0.333V394.7zM128.75 395.7V296.8h0.333V395.7zM129.08 395.2V285.5h0.333V395.2zM129.41 395.6V268.5h0.333V395.6zM129.75 394.3V278.5h0.333V394.3zM130.08 395V293.8h0.333V395zM130.41 395.2V280h0.333V395.2zM130.75 394.6V294.7h0.333V394.6zM131.08 394.7V282.1h0.333V394.7zM131.41 395.3V299.5h0.333V395.3zM131.75 394.7V295.2h0.333V394.7zM132.08 393.6V293.1h0.333V393.6zM132.41 395.1V294.2h0.333V395.1zM132.75 396.1V290.8h0.333V396.1zM133.08 395.3V263.8h0.333V395.3zM133.41 393V303.6h0.333V393zM133.75 395.3V297.3h0.333V395.3zM134.08 395.5V279.4h0.333V395.5zM134.41 396.4V289.9h0.333V396.4zM134.75 393.1V301.8h0.333V393.1zM135.08 396.8V297.1h0.333V396.8zM135.41 394V276.6h0.333V394zM135.75 395.1V293.7h0.333V395.1zM136.08 395V293.7h0.333V395zM136.42 394.6V273.4h0.333V394.6zM136.75 395.9V295.7h0.333V395.9zM137.08 396.2V298.3h0.333V396.2zM137.42 394.1V277.5h0.333V394.1zM137.75 394.9V302.1h0.333V394.9zM138.08 396.1V309.6h0.333V396.1zM138.42 395.6V305.9h0.333V395.6zM138.75 394.9V294.7h0.333V394.9zM139.08 394.7V292.6h0.333V394.7zM139.42 394V278.2h0.333V394zM139.75 393.6V285h0.333V393.6zM140.08 394.4V255.4h0.333V394.4zM140.42 395.4V290.8h0.333V395.4zM140.75 394.6V299.8h0.333V394.6zM141.08 393.3V264h0.333V393.3zM141.42 393.9V287.1h0.333V393.9zM141.75 394.7V303.2h0.333V394.7zM142.08 394.8V288h0.333V394.8zM142.42 394.5V301.2h0.333V394.5zM142.75 393.5V288.2h0.333V393.5zM143.08 390.9V271.8h0.333V390.9zM143.42 394.7V301.2h0.333V394.7zM143.75 395.6V288.2h0.333V395.6zM144.08 394.9V278.7h0.333V394.9zM144.42 394.5V277.1h0.333V394.5zM144.75 396V282.8h0.333V396zM145.08 397V283.8h0.333V397zM145.42 391V254.9h0.333V391zM145.75 395.5V297.4h0.333V395.5zM146.08 393.9V276.8h0.333V393.9zM146.42 396.5V278.5h0.333V396.5zM146.75 395.1V285.7h0.333V395.1zM147.08 392.6V293.5h0.333V392.6zM147.42 396.4V277.4h0.333V396.4zM147.75 395.5V300.5h0.333V395.5zM148.08 395.8V274.6h0.333V395.8zM148.42 396.5V288.4h0.333V396.5zM148.75 396.2V292h0.333V396.2zM149.08 396.6V304.7h0.333V396.6zM149.42 392.2V281.8h0.333V392.2zM149.75 393.5V299.8h0.333V393.5zM150.08 393.7V288.7h0.333V393.7zM150.42 395.6V293.1h0.333V395.6zM150.75 395.7V276.8h0.333V395.7zM151.08 395.4V299.6h0.333V395.4zM151.42 395.5V281.3h0.333V395.5zM151.75 395.3V284.8h0.333V395.3zM152.08 393.8V272h0.333V393.8zM152.42 394.5V299.2h0.333V394.5zM152.75 395.3V276.1h0.333V395.3zM153.08 394.7V300.2h0.333V394.7zM153.42 395.5V289.8h0.333V395.5zM153.75 395.3V304h0.333V395.3zM154.08 393.8V296.3h0.333V393.8zM154.42 394.1V280.9h0.333V394.1zM154.75 393.9V290.8h0.333V393.9zM155.08 397.2V273.8h0.333V397.2zM155.42 395.9V300.4h0.333V395.9zM155.75 396.2V296.6h0.333V396.2zM156.09 394.2V299.9h0.333V394.2zM156.42 395.2V258.8h0.333V395.2zM156.75 394.9V295.3h0.333V394.9zM157.09 396.3V294.9h0.333V396.3zM157.42 394.8V308.2h0.333V394.8zM157.75 396.4V286.6h0.333V396.4zM158.09 393.6V268.7h0.333V393.6zM158.42 396.6V297.7h0.333V396.6zM158.75 394.9V298.3h0.333V394.9zM159.09 394.2V250.8h0.333V394.2zM159.42 396.9V287.7h0.333V396.9zM159.75 396.6V300.8h0.333V396.6zM160.09 396V270.1h0.333V396zM160.42 396.2V298.9h0.333V396.2zM160.75 395.5V293.5h0.333V395.5zM161.09 396.1V287.9h0.333V396.1zM161.42 394.7V272.3h0.333V394.7zM161.75 396.4V286.5h0.333V396.4zM162.09 394.2V291.4h0.333V394.2zM162.42 395.3V294h0.333V395.3zM162.75 396.6V305.3h0.333V396.6zM163.09 394.9V302.6h0.333V394.9zM163.42 396.4V279.4h0.333V396.4zM163.75 395.7V253.9h0.333V395.7zM164.09 394.2V284.2h0.333V394.2zM164.42 395.2V308.1h0.333V395.2zM164.75 393.7V286.8h0.333V393.7zM165.09 393.6V272.7h0.333V393.6zM165.42 394.4V297.1h0.333V394.4zM165.75 395.8V289.9h0.333V395.8zM166.09 395.9V268.7h0.333V395.9zM166.42 396V296.9h0.333V396zM166.75 396.2V257.1h0.333V396.2zM167.09 396.5V288.4h0.333V396.5zM167.42 395.8V273.1h0.333V395.8zM167.75 393.6V256h0.333V393.6zM168.09 396.8V292h0.333V396.8zM168.42 396.6V300.3h0.333V396.6zM168.75 393.4V303.3h0.333V393.4zM169.09 396.4V274.1h0.333V396.4zM169.42 396.7V283.2h0.333V396.7zM169.75 397.1V282.2h0.333V397.1zM170.09 392.8V283.3h0.333V392.8zM170.42 396.3V274.3h0.333V396.3zM170.75 396.2V270.7h0.333V396.2zM171.09 395.1V274.4h0.333V395.1zM171.42 395.4V282.2h0.333V395.4zM171.75 394.8V297.3h0.333V394.8zM172.09 396.4V300.8h0.333V396.4zM172.42 395.7V287.2h0.333V395.7zM172.75 394V286.6h0.333V394zM173.09 395.5V285.3h0.333V395.5zM173.42 393.1V286.5h0.333V393.1zM173.75 396.2V282.6h0.333V396.2zM174.09 395.5V286h0.333V395.5zM174.42 394.9V288.9h0.333V394.9zM174.75 395.8V289.8h0.333V395.8zM175.09 395.9V285.4h0.333V395.9zM175.42 395.4V299.1h0.333V395.4zM175.75 396.3V304.6h0.333V396.3zM176.09 394.4V289.9h0.333V394.4zM176.42 395.3V306.1h0.333V395.3zM176.76 394V290.2h0.333V394zM177.09 395.2V303.4h0.333V395.2zM177.42 395.5V292h0.333V395.5zM177.76 395.1V294.9h0.333V395.1zM178.09 395.8V283.4h0.333V395.8zM178.42 396.5V286.4h0.333V396.5zM178.76 396V276.7h0.333V396zM179.09 394V285.6h0.333V394zM179.42 395.8V298h0.333V395.8zM179.76 395.7V276h0.333V395.7zM180.09 393.4V280.9h0.333V393.4zM180.42 394.1V295.3h0.333V394.1zM180.76 394V288.3h0.333V394zM181.09 396.8V277.2h0.333V396.8zM181.42 395.9V297.7h0.333V395.9zM181.76 396.4V275.3h0.333V396.4zM182.09 396.5V265.8h0.333V396.5zM182.42 395.6V285.8h0.333V395.6zM182.76 395.2V275.3h0.333V395.2zM183.09 391.4V271.9h0.333V391.4zM183.42 394.5V293.3h0.333V394.5zM183.76 395.4V286.2h0.333V395.4zM184.09 396V294.9h0.333V396zM184.42 393.1V275.6h0.333V393.1zM184.76 397.1V286.2h0.333V397.1zM185.09 393.7V292.1h0.333V393.7zM185.42 396.4V283.9h0.333V396.4zM185.76 396.2V286.5h0.333V396.2zM186.09 392.7V283.7h0.333V392.7zM186.42 392.1V287.9h0.333V392.1zM186.76 397V292.1h0.333V397zM187.09 395.7V278.3h0.333V395.7zM187.42 394.9V290.7h0.333V394.9zM187.76 396.5V307.1h0.333V396.5zM188.09 396.3V286.3h0.333V396.3zM188.42 396.4V283.3h0.333V396.4zM188.76 396.5V301.6h0.333V396.5zM189.09 393.8V250.8h0.333V393.8zM189.42 395.3V272.3h0.333V395.3zM189.76 395.1V295.7h0.333V395.1zM190.09 394.4V273.6h0.333V394.4zM190.42 396.1V281.3h0.333V396.1zM190.76 395.2V310.5h0.333V395.2zM191.09 395.6V298.2h0.333V395.6zM191.42 395.5V296.4h0.333V395.5zM191.76 392.4V299.8h0.333V392.4zM192.09 393.6V286.6h0.333V393.6zM192.42 396.2V300.8h0.333V396.2zM192.76 395.9V261.5h0.333V395.9zM193.09 396V293.9h0.333V396zM193.42 396V289.6h0.333V396zM193.76 395.5V290.3h0.333V395.5zM194.09 395.1V282.8h0.333V395.1zM194.42 395.1V290h0.333V395.1zM194.76 393.2V297.4h0.333V393.2zM195.09 396.6V291.9h0.333V396.6zM195.42 395.9V276.9h0.333V395.9zM195.76 396.9V277.3h0.333V396.9zM196.09 396.5V284.3h0.333V396.5zM196.42 394V288.9h0.333V394zM196.76 395.9V294.6h0.333V395.9zM197.09 396.6V275h0.333V396.6zM197.43 396.1V287.1h0.333V396.1zM197.76 393V294.5h0.333V393zM198.09 396.2V296h0.333V396.2zM198.43 396.1V277.1h0.333V396.1zM198.76 395.4V292h0.333V395.4zM199.09 397.1V291h0.333V397.1zM199.43 396.9V296.9h0.333V396.9zM199.76 394.8V292.7h0.333V394.8zM200.09 396.2V268.8h0.333V396.2zM200.43 395.7V280.5h0.333V395.7zM200.76 395.1V294.1h0.333V395.1zM201.09 395.9V271.1h0.333V395.9zM201.43 397V290.2h0.333V397zM201.76 396.1V290.1h0.333V396.1zM202.09 396.6V284.8h0.333V396.6zM202.43 396V296.9h0.333V396zM202.76 393.8V297.3h0.333V393.8zM203.09 394.2V269.8h0.333V394.2zM203.43 395.9V297.8h0.333V395.9zM203.76 395.6V298.3h0.333V395.6zM204.09 395.8V263.8h0.333V395.8zM204.43 396.3V280.7h0.333V396.3zM204.76 396.3V276.2h0.333V396.3zM205.09 396.2V287.1h0.333V396.2zM205.43 396.4V293.5h0.333V396.4zM205.76 394.2V293.4h0.333V394.2zM206.09 396.9V287.5h0.333V396.9zM206.43 395V277.9h0.333V395zM206.76 393.8V295.3h0.333V393.8zM207.09 393.6V287.5h0.333V393.6zM207.43 392.1V293h0.333V392.1zM207.76 395.6V296.2h0.333V395.6zM208.09 396.7V288.7h0.333V396.7zM208.43 396V304.4h0.333V396zM208.76 395.8V296.4h0.333V395.8zM209.09 396V284.7h0.333V396zM209.43 395.3V285.5h0.333V395.3zM209.76 394.8V269.3h0.333V394.8zM210.09 396.1V306.4h0.333V396.1zM210.43 396.3V290h0.333V396.3zM210.76 395.6V301h0.333V395.6zM211.09 395.1V298.4h0.333V395.1zM211.43 394.8V302.7h0.333V394.8zM211.76 394.8V295.6h0.333V394.8zM212.09 397.1V298.3h0.333V397.1zM212.43 394.8V294.6h0.333V394.8zM212.76 395.5V296.5h0.333V395.5zM213.09 394.5V288.8h0.333V394.5zM213.43 394.3V279.4h0.333V394.3zM213.76 397.1V305h0.333V397.1zM214.09 392.8V277.2h0.333V392.8zM214.43 396.7V281.2h0.333V396.7zM214.76 394.9V298.7h0.333V394.9zM215.09 395.2V290.3h0.333V395.2zM215.43 395.8V299.5h0.333V395.8zM215.76 395.9V293.5h0.333V395.9zM216.09 397.2V284.8h0.333V397.2zM216.43 396.4V291.5h0.333V396.4zM216.76 396.3V301h0.333V396.3zM217.10 395.6V306.5h0.333V395.6zM217.43 395.3V273.4h0.333V395.3zM217.76 396.3V286.3h0.333V396.3zM218.10 396.2V295.5h0.333V396.2zM218.43 394.3V303h0.333V394.3zM218.76 394.7V299.4h0.333V394.7zM219.10 393.9V271.2h0.333V393.9zM219.43 395.2V288h0.333V395.2zM219.76 393.2V280.4h0.333V393.2zM220.10 395.9V255.5h0.333V395.9zM220.43 392.7V291.1h0.333V392.7zM220.76 395.9V270.7h0.333V395.9zM221.10 394V262.1h0.333V394zM221.43 396.2V264.7h0.333V396.2zM221.76 395.8V286.2h0.333V395.8zM222.10 395.1V286.3h0.333V395.1zM222.43 396.2V278.7h0.333V396.2zM222.76 396.6V294.1h0.333V396.6zM223.10 394.7V286.8h0.333V394.7zM223.43 395.5V281.5h0.333V395.5zM223.76 393.4V285.7h0.333V393.4zM224.10 394.9V276.4h0.333V394.9zM224.43 395.2V293h0.333V395.2zM224.76 394.9V250.8h0.333V394.9zM225.10 396.4V276.1h0.333V396.4zM225.43 396.5V274.3h0.333V396.5zM225.76 395.3V299h0.333V395.3zM226.10 395.3V290.7h0.333V395.3zM226.43 394.9V294.7h0.333V394.9zM226.76 395.3V283.3h0.333V395.3zM227.10 394.6V259.2h0.333V394.6zM227.43 394.2V289.2h0.333V394.2zM227.76 394.4V288.7h0.333V394.4zM228.10 395.4V303.2h0.333V395.4zM228.43 395.7V305.3h0.333V395.7zM228.76 395.8V300.4h0.333V395.8zM229.10 396.7V306h0.333V396.7zM229.43 394.2V250.8h0.333V394.2zM229.76 395.7V275.4h0.333V395.7zM230.10 396.9V296.6h0.333V396.9zM230.43 394.5V287h0.333V394.5zM230.76 396.6V296.6h0.333V396.6zM231.10 395.6V283.2h0.333V395.6zM231.43 397V301.4h0.333V397zM231.76 395.3V292.3h0.333V395.3zM232.10 395.7V257.4h0.333V395.7zM232.43 395.7V259.2h0.333V395.7zM232.76 395V280.2h0.333V395zM233.10 394.8V288.7h0.333V394.8zM233.43 395.9V293.9h0.333V395.9zM233.76 395.4V281.9h0.333V395.4zM234.10 396.1V302.8h0.333V396.1zM234.43 396.3V279.2h0.333V396.3zM234.76 396.3V272.9h0.333V396.3zM235.10 394.4V298.1h0.333V394.4zM235.43 396.2V292.1h0.333V396.2zM235.76 394.5V297.8h0.333V394.5zM236.10 395.5V303.2h0.333V395.5zM236.43 396V283h0.333V396zM236.76 395.3V278.4h0.333V395.3zM237.10 395.1V257.9h0.333V395.1zM237.43 396.8V259.7h0.333V396.8zM237.77 394.8V288.8h0.333V394.8zM238.10 393.8V292.4h0.333V393.8zM238.43 393.5V270.6h0.333V393.5zM238.77 395.9V292.5h0.333V395.9zM239.10 396.1V305.9h0.333V396.1zM239.43 394.6V299.9h0.333V394.6zM239.77 395.8V288.9h0.333V395.8zM240.10 396.2V296h0.333V396.2zM240.43 395.6V287.7h0.333V395.6zM240.77 396.3V287.4h0.333V396.3zM241.10 394.3V279.3h0.333V394.3zM241.43 396.4V299h0.333V396.4zM241.77 394.8V296.2h0.333V394.8zM242.10 396.8V292.8h0.333V396.8zM242.43 396.4V310.7h0.333V396.4zM242.77 395.5V289.5h0.333V395.5zM243.10 394V280.5h0.333V394zM243.43 395.2V277.1h0.333V395.2zM243.77 394.2V289.6h0.333V394.2zM244.10 395V284.6h0.333V395zM244.43 395.7V254.2h0.333V395.7zM244.77 396.4V272.6h0.333V396.4zM245.10 392.6V298.9h0.333V392.6zM245.43 396.7V280.7h0.333V396.7zM245.77 394.2V307.7h0.333V394.2zM246.10 394.2V300.8h0.333V394.2zM246.43 394.5V291.3h0.333V394.5zM246.77 397V285.4h0.333V397z" fill="#0072bd" stroke="none"/>
<path d="M44.4 397.4v-2.2M44.4 250.8v2.2M84.8 397.4v-2.2M84.8 250.8v2.2M125.3 397.4v-2.2M125.3 250.8v2.2M165.8 397.4v-2.2M165.8 250.8v2.2M206.2 397.4v-2.2M206.2 250.8v2.2M44.4 397.4h2.2M247.1 397.4h-2.2M44.4 368.1h2.2M247.1 368.1h-2.2M44.4 338.8h2.2M247.1 338.8h-2.2M44.4 309.4h2.2M247.1 309.4h-2.2M44.4 280.1h2.2M247.1 280.1h-2.2M44.4 250.8h2.2M247.1 250.8h-2.2" stroke="#9a9a9a" stroke-width="0.6" fill="none"/>
<rect x="44.4" y="250.8" width="202.7" height="146.6" fill="none" stroke="#a4a4a4" stroke-width="0.7"/>
<text x="44.4" y="414.4" text-anchor="middle" class="t">0</text>
<text x="84.8" y="414.4" text-anchor="middle" class="t">1</text>
<text x="125.3" y="414.4" text-anchor="middle" class="t">2</text>
<text x="165.8" y="414.4" text-anchor="middle" class="t">3</text>
<text x="206.2" y="414.4" text-anchor="middle" class="t">4</text>
<text x="40.4" y="402.5" text-anchor="end" class="t">0</text>
<text x="40.4" y="373.2" text-anchor="end" class="t">0.2</text>
<text x="40.4" y="343.9" text-anchor="end" class="t">0.4</text>
<text x="40.4" y="314.5" text-anchor="end" class="t">0.6</text>
<text x="40.4" y="285.2" text-anchor="end" class="t">0.8</text>
<text x="40.4" y="255.9" text-anchor="end" class="t">1</text>
<text x="145.8" y="431.8" text-anchor="middle" class="l">Time[s]</text>
<text transform="translate(18.2 324.1) rotate(-90)" text-anchor="middle" class="l">Normalized Power</text>
<text x="246.5" y="434.7" text-anchor="end" class="e">10<tspan dy="-6" class="s">-4</tspan></text>
<text x="222.6" y="436.4" text-anchor="end" class="x">×</text>
<rect x="334.7" y="21.1" width="208.3" height="141.5" fill="#3f2ec6"/>
<rect x="334.7" y="21.1" width="208.3" height="141.5" fill="#3f2ec6" filter="url(#nb)"/>
<path d="M348.3 92.1L356.7 45.4M389.8 92.1L398.3 45.4M431.4 92.1L439.8 45.4M472.9 92.1L481.4 45.4M514.5 92.1L522.9 45.4" stroke="#4e90d4" stroke-width="0.85" fill="none" stroke-linecap="butt"/>
<path d="M334.7 162.6V21.1H543" stroke="#b9b9c4" stroke-width="0.7" fill="none"/>
<text x="334.7" y="179.2" text-anchor="middle" class="t">0</text>
<text x="417.8" y="179.2" text-anchor="middle" class="t">2</text>
<text x="500.9" y="179.2" text-anchor="middle" class="t">4</text>
<text x="330.4" y="49.4" text-anchor="end" class="t">1</text>
<text x="330.4" y="96.5" text-anchor="end" class="t">0</text>
<text x="330.4" y="143.7" text-anchor="end" class="t">-1</text>
<text x="438.9" y="197.3" text-anchor="middle" class="l">Time[s]</text>
<text transform="translate(314.2 90.9) rotate(-90)" text-anchor="middle" class="l">Frequency[Hz]</text>
<text x="542.5" y="199.8" text-anchor="end" class="e">10<tspan dy="-6" class="s">-4</tspan></text>
<text x="518.6" y="201.5" text-anchor="end" class="x">×</text>
<text x="335.2" y="20.2" text-anchor="start" class="x">×</text>
<text x="345.6" y="17.7" text-anchor="start" class="e">10<tspan dy="-6" class="s">8</tspan></text>
<rect x="334.7" y="256" width="208.3" height="141.5" fill="#4054ea"/>
<rect x="334.7" y="256" width="208.3" height="141.5" fill="#4054ea" filter="url(#nd)"/>
<path d="M348.3 327.1L356.7 280.3M389.8 327.1L398.3 280.3M431.4 327.1L439.8 280.3M472.9 327.1L481.4 280.3M514.5 327.1L522.9 280.3" stroke="#4a9fb4" stroke-width="0.72" fill="none" stroke-linecap="butt"/>
<path d="M334.7 397.5V256H543" stroke="#b9b9c4" stroke-width="0.7" fill="none"/>
<text x="334.7" y="414.1" text-anchor="middle" class="t">0</text>
<text x="417.8" y="414.1" text-anchor="middle" class="t">2</text>
<text x="500.9" y="414.1" text-anchor="middle" class="t">4</text>
<text x="330.4" y="284.3" text-anchor="end" class="t">1</text>
<text x="330.4" y="331.4" text-anchor="end" class="t">0</text>
<text x="330.4" y="378.6" text-anchor="end" class="t">-1</text>
<text x="438.9" y="432.2" text-anchor="middle" class="l">Time[s]</text>
<text transform="translate(314.2 325.9) rotate(-90)" text-anchor="middle" class="l">Frequency[Hz]</text>
<text x="542.5" y="434.7" text-anchor="end" class="e">10<tspan dy="-6" class="s">-4</tspan></text>
<text x="518.6" y="436.4" text-anchor="end" class="x">×</text>
<text x="335.2" y="255.1" text-anchor="start" class="x">×</text>
<text x="345.6" y="252.6" text-anchor="start" class="e">10<tspan dy="-6" class="s">8</tspan></text>
<text x="158.3" y="230.5" text-anchor="middle" class="c">(a)</text>
<text x="448.5" y="230.4" text-anchor="middle" class="c">(b)</text>
<text x="159.2" y="463.2" text-anchor="middle" class="c">(c)</text>
<text x="448.5" y="463" text-anchor="middle" class="c">(d)</text>
</svg>
</body>
</html>
